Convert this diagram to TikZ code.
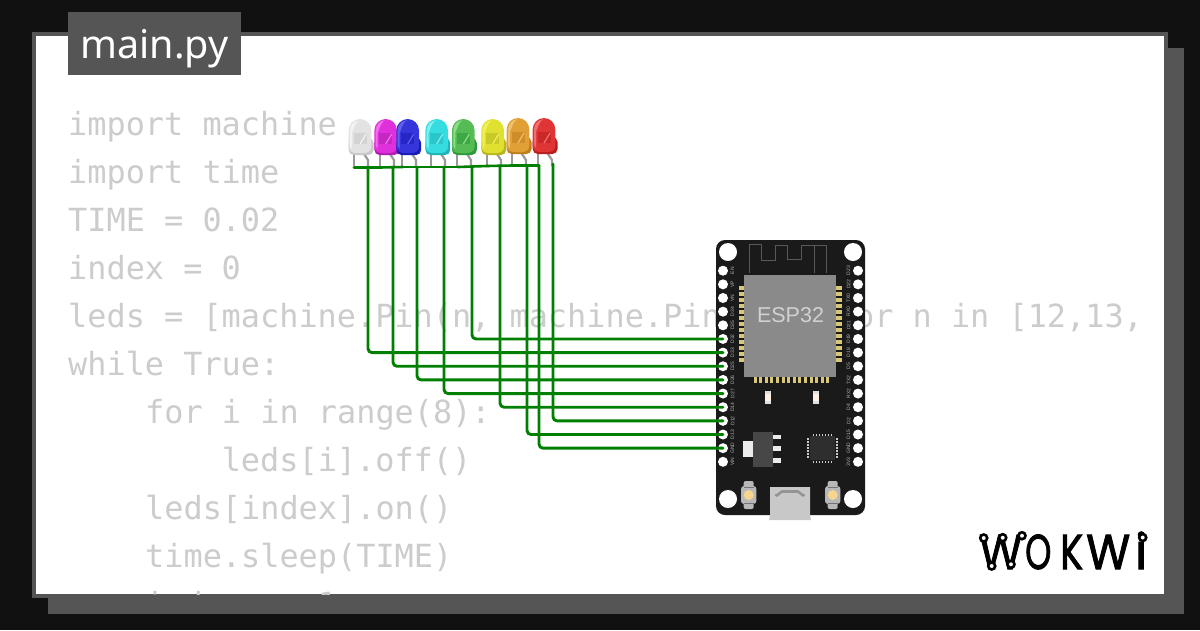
\documentclass[tikz,border=0pt]{standalone}
\usepackage{graphicx}
\usepackage{fontspec}
\setmainfont{Liberation Sans}
\newfontfamily\codefont{DejaVu Sans Mono}
\newfontfamily\titlefont{Noto Sans}
\newfontfamily\logofont[FakeBold=2]{Poppins}
\usetikzlibrary{calc}
\definecolor{bgdark}{HTML}{111111}
\definecolor{framegray}{HTML}{555555}
\definecolor{codegray}{HTML}{CCCCCC}
\definecolor{wiregreen}{HTML}{008000}
\definecolor{boardblack}{HTML}{1A1A1A}
\definecolor{chipgray}{HTML}{8A8A8A}
\definecolor{pingold}{HTML}{D6C878}
\definecolor{usbgray}{HTML}{C8C8C8}
\definecolor{leggray}{HTML}{9A9A9A}
\definecolor{btnorange}{HTML}{F5D58F}
\tikzset{
  codeline/.style={anchor=base west,inner sep=0pt,text=codegray,font=\codefont\fontsize{31.88}{32}\selectfont},
  wirepath/.style={draw=wiregreen,line width=2.9pt,rounded corners=4pt,line cap=round},
  chainpath/.style={draw=wiregreen,line width=2.6pt,line cap=round},
  pinhole/.style={circle,fill=white,inner sep=0pt,minimum size=10pt},
  mounthole/.style={circle,fill=white,inner sep=0pt,minimum size=18pt},
  pinlabel/.style={rotate=90,inner sep=0pt,text=white!70!black,font=\fontsize{5}{5}\selectfont},
  goldpin/.style={fill=pingold,draw=none},
  legline/.style={draw=leggray,line width=2.2pt},
  logodot/.style={circle,draw=black,fill=white,line width=2.6pt,inner sep=0pt,minimum size=7pt},
}
% \ledbulb{x}{top y}{body hex}{dark hex}{light hex}
\newcommand{\ledbulb}[5]{%
  \definecolor{ledB}{HTML}{#3}\definecolor{ledD}{HTML}{#4}\definecolor{ledL}{HTML}{#5}%
  \fill[ledD,rounded corners=5pt] (#1-11.3,#2+19) rectangle (#1+13.5,#2+36);
  \fill[ledB] (#1-11.3,#2+11.3) arc[start angle=180,end angle=360,radius=11.3] -- (#1+11.3,#2+28) to[out=-90,in=0] (#1+4,#2+34) -- (#1-4,#2+34) to[out=180,in=-90] (#1-11.3,#2+28) -- cycle;
  \fill[ledL] (#1-10,#2+11.3) arc[start angle=180,end angle=270,radius=10] to[out=180,in=-90] (#1-8,#2+12) -- (#1-8,#2+30) -- (#1-10,#2+27) -- cycle;
  \fill[ledD,opacity=.55] (#1-6.5,#2+14) rectangle (#1+6.5,#2+25);
  \draw[ledL,line width=1.2pt] (#1,#2+25) -- (#1+6,#2+15);
}
\begin{document}
\begin{tikzpicture}[x=1pt,y=-1pt]
\useasboundingbox (0,0) rectangle (1200,630);
\fill[bgdark] (0,0) rectangle (1200,630);
\fill[framegray] (48,48) rectangle (1184,614);
\fill[framegray] (32,32) rectangle (1168,598);
\fill[white] (36,36) rectangle (1164,594);
\begin{scope}
\clip (36,36) rectangle (1164,594);
\node[codeline] (c1) at (68,135) {import machine};
\node[codeline] (c2) at (68,183) {import time};
\node[codeline] (c3) at (68,231) {TIME = 0.02};
\node[codeline] (c4) at (68,279) {index = 0};
\node[codeline] (c5) at (68,327) {leds = [machine.Pin(n, machine.Pin.OUT) for n in [12,13,};
\node[codeline] (c6) at (68,375) {while True:};
\node[codeline] (c7) at (145,423) {for i in range(8):};
\node[codeline] (c8) at (221.6,471) {leds[i].off()};
\node[codeline] (c9) at (145,519) {leds[index].on()};
\node[codeline] (c10) at (145,567) {time.sleep(TIME)};
\node[codeline] (c11) at (145,615) {index += 1};
\end{scope}
\fill[framegray] (68,12) rectangle (241,75);
\node[anchor=base,inner sep=0pt,text=white,font=\titlefont\fontsize{39.5}{40}\selectfont] (title) at (154.5,58) {main.py};
% --- board
\fill[boardblack,rounded corners=9pt] (716,240) rectangle (865,515);
\foreach \hx/\hy/\hn in {728/252/ma,853/252/mb,728/499/mc,853/499/md}
  \node[mounthole] (\hn) at (\hx,\hy) {};
\foreach \lab [count=\i from 0] in {EN,VP,VN,D34,D35,D32,D33,D25,D26,D27,D14,D12,D13,GND,VIN} {
  \node[pinhole] (L\i) at (723,270.7+13.65*\i) {};
  \node[pinlabel] (LT\i) at (732.5,270.7+13.65*\i) {\lab};
}
\foreach \lab [count=\i from 0] in {D23,D22,TX0,RX0,D21,D19,D18,D5,TX2,RX2,D4,D2,D15,GND,3V3} {
  \node[pinhole] (R\i) at (858,270.7+13.65*\i) {};
  \node[pinlabel] (RT\i) at (848.5,270.7+13.65*\i) {\lab};
}
% antenna
\draw[white!35!black,line width=1pt] (749.3,273) |- (761,244.3) |- (775,260) |- (787.3,245.7) |- (801.7,259) |- (801.7,245.7) -| (826.7,273);
\draw[white!35!black,line width=1pt] (814,245.7) -- (814,273);
% module pins
\foreach \i in {0,...,12} {
  \fill[goldpin] (738.5,288+6*\i-1.7) rectangle (744.5,288+6*\i+1.7);
  \fill[goldpin] (836,288+6*\i-1.7) rectangle (842,288+6*\i+1.7);
}
\foreach \i in {0,...,13} {
  \fill[goldpin] (755+5.6*\i-1.5,377) rectangle (755+5.6*\i+1.5,383);
}
\fill[chipgray] (744,274.5) rectangle (836,377);
\node[inner sep=0pt,text=white!82!black,font=\fontsize{21.5}{21.5}\selectfont] (esp) at (790.5,315) {ESP32};
% small caps
\foreach \cx in {768,816} {
  \fill[white!88!black] (\cx-2.7,391) rectangle (\cx+2.7,404);
  \fill[white!90!orange] (\cx-2.7,394) rectangle (\cx+2.7,401);
}
% regulator
\fill[white!92!black] (743,441) rectangle (753,457);
\fill[white!92!black] (772,434.5) rectangle (781,439);
\fill[white!92!black] (772,446) rectangle (781,450.5);
\fill[white!92!black] (772,458) rectangle (781,463);
\fill[white!28!black] (753,432) rectangle (772.5,467);
% QFN
\fill[white!18!black] (809.5,436) rectangle (835,460);
\foreach \i in {0,...,6} {
  \fill[white!80!black] (813.5+3*\i-.8,433.5) rectangle (813.5+3*\i+.8,435.5);
  \fill[white!80!black] (813.5+3*\i-.8,460.5) rectangle (813.5+3*\i+.8,462.5);
  \fill[white!80!black] (806.5,439+3*\i-.8) rectangle (808.5,439+3*\i+.8);
  \fill[white!80!black] (835.5,439+3*\i-.8) rectangle (837.5,439+3*\i+.8);
}
% buttons
\foreach \bx in {748.7,832.7} {
  \fill[white!72!black,rounded corners=2pt] (\bx-5,481) rectangle (\bx+5,509);
  \fill[white!72!black,rounded corners=3pt] (\bx-7.7,486) rectangle (\bx+7.7,504);
  \fill[white!45!black] (\bx-5,486.5) rectangle (\bx+5,487.5);
  \fill[white!45!black] (\bx-5,502.5) rectangle (\bx+5,503.5);
  \fill[btnorange] (\bx,495) circle[radius=5];
}
% usb
\fill[usbgray] (770,487) -- (810,487) -- (810,515) -- (811,520) -- (769,520) -- (770,515) -- cycle;
\draw[white!58!black,line width=2.6pt,line join=round] (776,496) -- (782,491.5) -- (798,491.5) -- (804,496);
\draw[white!58!black,line width=2pt] (775,494.5) -- (779,494.5) (801,494.5) -- (805,494.5);
% --- LEDs
\foreach \cx in {360,386,408,437,463,493,518,544} {
  \draw[legline] (\cx-6,150) -- (\cx-6,166);
  \draw[legline] (\cx+2,151) -- (\cx+8,160) -- (\cx+8,166);
}
\ledbulb{360}{119}{E2E2E2}{C8C8C8}{F2F2F2}
\ledbulb{385.7}{119}{E030DC}{B020B0}{F070EC}
\ledbulb{407.7}{119}{3535DC}{1A1AB4}{6060E8}
\ledbulb{436.7}{119}{35DCE0}{20B4B8}{80F0F0}
\ledbulb{463.3}{119}{55BB55}{2E9A3A}{8ADB8A}
\ledbulb{492.7}{119}{E0E030}{B8B81E}{F0F060}
\ledbulb{518}{118}{E0A035}{C07F1E}{F0C070}
\ledbulb{544}{118}{E03535}{B81E1E}{F07070}
% --- wires
\coordinate (k1) at (354,167.5);
\coordinate (k2) at (380,167.5);
\coordinate (k3) at (403,167);
\coordinate (k4) at (431,167);
\coordinate (k5) at (458,167);
\coordinate (k6) at (487,166);
\coordinate (k7) at (512,165.5);
\coordinate (k8) at (539,165.5);
\coordinate (a1) at (368,167);
\coordinate (a2) at (393,167);
\coordinate (a3) at (417,167);
\coordinate (a4) at (444,167);
\coordinate (a5) at (472,167);
\coordinate (a6) at (500,166);
\coordinate (a7) at (527,166);
\coordinate (a8) at (553,164);
\draw[chainpath] (k1) -- (k2);
\draw[chainpath] (k2) -- (k3);
\draw[chainpath] (k3) -- (k4);
\draw[chainpath] (k4) -- (k5);
\draw[chainpath] (k5) -- (k6);
\draw[chainpath] (k6) -- (k7);
\draw[chainpath] (k7) -- (k8);
\draw[wirepath] (a1) |- (L6.center);
\draw[wirepath] (a2) |- (L7.center);
\draw[wirepath] (a3) |- (L8.center);
\draw[wirepath] (a4) |- (L9.center);
\draw[wirepath] (a5) |- (L5.center);
\draw[wirepath] (a6) |- (L10.center);
\draw[wirepath] (a7) |- (L12.center);
\draw[wirepath] (a8) |- (L11.center);
\draw[wirepath] (k8) |- (L13.center);
% --- logo
\node[anchor=base west,inner sep=0pt,text=black,font=\logofont\fontsize{49}{49}\selectfont] (logo) at (979,569)
  {\makebox[46pt][l]{\scalebox{.9}[1]{W}}\makebox[35pt][l]{\scalebox{.68}[1]{O}}\makebox[26pt][l]{\scalebox{.78}[1]{K}}\makebox[49pt][l]{\scalebox{.92}[1]{W}}i};
\foreach \dx/\dy/\dn in {983.7/538/d1,1002.7/537.7/d2,1022/535.7/d3,991.7/566/d4,1011/564.3/d5,1142.7/537.5/d6}
  \node[logodot] (\dn) at (\dx,\dy) {};
\end{tikzpicture}
\end{document}
